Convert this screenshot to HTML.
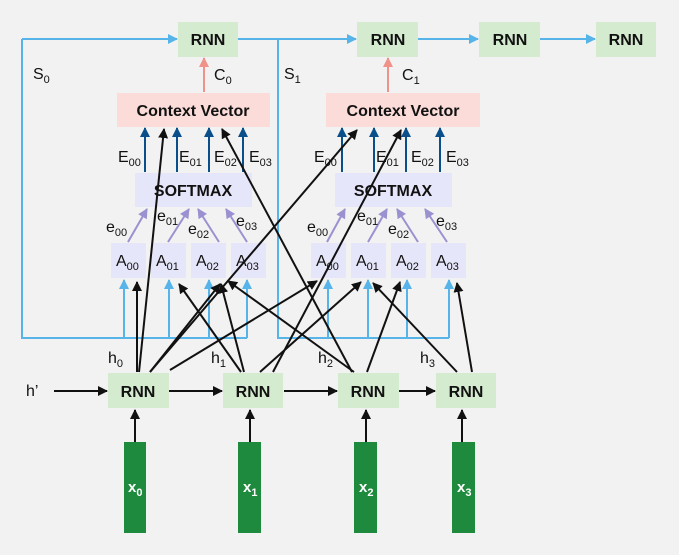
<!DOCTYPE html>
<html><head><meta charset="utf-8"><style>
html,body{margin:0;padding:0;background:#f2f2f2;}
svg{display:block;font-family:"Liberation Sans","DejaVu Sans",sans-serif;}
.t{font-size:16px;font-weight:bold;fill:#111;}
.l{font-size:16px;fill:#111;}
.s{font-size:11px;}
</style></head><body>
<svg width="679" height="555" viewBox="0 0 679 555" xmlns="http://www.w3.org/2000/svg">
<defs>
<marker id="ab" markerWidth="10" markerHeight="10" refX="9" refY="5" orient="auto" markerUnits="userSpaceOnUse"><path d="M0,0 L10,5 L0,10 z" fill="#111"/></marker>
<marker id="abl" markerWidth="10" markerHeight="10" refX="9" refY="5" orient="auto" markerUnits="userSpaceOnUse"><path d="M0,0 L10,5 L0,10 z" fill="#56b4e9"/></marker>
<marker id="adb" markerWidth="10" markerHeight="10" refX="9" refY="5" orient="auto" markerUnits="userSpaceOnUse"><path d="M0,0 L10,5 L0,10 z" fill="#0b4f8a"/></marker>
<marker id="ap" markerWidth="10" markerHeight="10" refX="9" refY="5" orient="auto" markerUnits="userSpaceOnUse"><path d="M0,0 L10,5 L0,10 z" fill="#9a92d0"/></marker>
<marker id="ar" markerWidth="10" markerHeight="10" refX="9" refY="5" orient="auto" markerUnits="userSpaceOnUse"><path d="M0,0 L10,5 L0,10 z" fill="#f0918a"/></marker>
</defs>

<!-- blue loops -->
<g stroke="#56b4e9" stroke-width="2" fill="none">
<polyline points="22,39 22,338 247,338"/>
<line x1="22" y1="39" x2="177" y2="39" marker-end="url(#abl)"/>
<line x1="238" y1="39" x2="356" y2="39" marker-end="url(#abl)"/>
<line x1="418" y1="39" x2="478" y2="39" marker-end="url(#abl)"/>
<line x1="540" y1="39" x2="595" y2="39" marker-end="url(#abl)"/>
<polyline points="278,39 278,338 449,338"/>
<line x1="124" y1="338" x2="124" y2="280" marker-end="url(#abl)"/>
<line x1="169" y1="338" x2="169" y2="280" marker-end="url(#abl)"/>
<line x1="209" y1="338" x2="209" y2="280" marker-end="url(#abl)"/>
<line x1="247" y1="338" x2="247" y2="280" marker-end="url(#abl)"/>
<line x1="328" y1="338" x2="328" y2="280" marker-end="url(#abl)"/>
<line x1="368" y1="338" x2="368" y2="280" marker-end="url(#abl)"/>
<line x1="407" y1="338" x2="407" y2="280" marker-end="url(#abl)"/>
<line x1="449" y1="338" x2="449" y2="280" marker-end="url(#abl)"/>
</g>

<!-- top RNNs -->
<g fill="#d5ebd0">
<rect x="178" y="22" width="60" height="35"/>
<rect x="357" y="22" width="61" height="35"/>
<rect x="479" y="22" width="61" height="35"/>
<rect x="596" y="22" width="60" height="35"/>
</g>
<g class="t" text-anchor="middle">
<text x="208" y="45">RNN</text><text x="388" y="45">RNN</text><text x="510" y="45">RNN</text><text x="626" y="45">RNN</text>
</g>
<text class="l" x="33" y="79">S<tspan class="s" dy="4">0</tspan></text>
<text class="l" x="284" y="79">S<tspan class="s" dy="4">1</tspan></text>

<!-- context vectors -->
<rect x="117" y="93" width="153" height="34" fill="#fbdcd9"/>
<rect x="326" y="93" width="154" height="34" fill="#fbdcd9"/>
<text class="t" x="193" y="116" text-anchor="middle">Context Vector</text>
<text class="t" x="403" y="116" text-anchor="middle">Context Vector</text>
<line x1="204" y1="92" x2="204" y2="58" stroke="#f0918a" stroke-width="2" marker-end="url(#ar)"/>
<line x1="388" y1="92" x2="388" y2="58" stroke="#f0918a" stroke-width="2" marker-end="url(#ar)"/>
<text class="l" x="214" y="80">C<tspan class="s" dy="4">0</tspan></text>
<text class="l" x="402" y="80">C<tspan class="s" dy="4">1</tspan></text>

<!-- softmax -->
<rect x="135" y="173" width="117" height="34" fill="#e6e6fa"/>
<rect x="335" y="173" width="117" height="34" fill="#e6e6fa"/>
<text class="t" x="193" y="196" text-anchor="middle">SOFTMAX</text>
<text class="t" x="393" y="196" text-anchor="middle">SOFTMAX</text>

<g stroke="#0b4f8a" stroke-width="2">
<line x1="145" y1="172" x2="145" y2="128" marker-end="url(#adb)"/>
<line x1="177" y1="172" x2="177" y2="128" marker-end="url(#adb)"/>
<line x1="209" y1="172" x2="209" y2="128" marker-end="url(#adb)"/>
<line x1="243" y1="172" x2="243" y2="128" marker-end="url(#adb)"/>
<line x1="342" y1="172" x2="342" y2="128" marker-end="url(#adb)"/>
<line x1="374" y1="172" x2="374" y2="128" marker-end="url(#adb)"/>
<line x1="406" y1="172" x2="406" y2="128" marker-end="url(#adb)"/>
<line x1="440" y1="172" x2="440" y2="128" marker-end="url(#adb)"/>
</g>
<g class="l">
<text x="118" y="162">E<tspan class="s" dy="4">00</tspan></text>
<text x="179" y="162">E<tspan class="s" dy="4">01</tspan></text>
<text x="214" y="162">E<tspan class="s" dy="4">02</tspan></text>
<text x="249" y="162">E<tspan class="s" dy="4">03</tspan></text>
<text x="314" y="162">E<tspan class="s" dy="4">00</tspan></text>
<text x="376" y="162">E<tspan class="s" dy="4">01</tspan></text>
<text x="411" y="162">E<tspan class="s" dy="4">02</tspan></text>
<text x="446" y="162">E<tspan class="s" dy="4">03</tspan></text>
</g>

<!-- A boxes -->
<g fill="#e6e6fa">
<rect x="111" y="243" width="35" height="35"/><rect x="151" y="243" width="35" height="35"/><rect x="191" y="243" width="35" height="35"/><rect x="231" y="243" width="35" height="35"/>
<rect x="311" y="243" width="35" height="35"/><rect x="351" y="243" width="35" height="35"/><rect x="391" y="243" width="35" height="35"/><rect x="431" y="243" width="35" height="35"/>
</g>
<g class="l">
<text x="116" y="266">A<tspan class="s" dy="4">00</tspan></text>
<text x="156" y="266">A<tspan class="s" dy="4">01</tspan></text>
<text x="196" y="266">A<tspan class="s" dy="4">02</tspan></text>
<text x="236" y="266">A<tspan class="s" dy="4">03</tspan></text>
<text x="316" y="266">A<tspan class="s" dy="4">00</tspan></text>
<text x="356" y="266">A<tspan class="s" dy="4">01</tspan></text>
<text x="396" y="266">A<tspan class="s" dy="4">02</tspan></text>
<text x="436" y="266">A<tspan class="s" dy="4">03</tspan></text>
</g>
<g stroke="#9a92d0" stroke-width="2">
<line x1="128" y1="242" x2="147" y2="209" marker-end="url(#ap)"/>
<line x1="168" y1="242" x2="189" y2="209" marker-end="url(#ap)"/>
<line x1="219" y1="242" x2="198" y2="209" marker-end="url(#ap)"/>
<line x1="247" y1="242" x2="226" y2="209" marker-end="url(#ap)"/>
<line x1="327" y1="242" x2="345" y2="209" marker-end="url(#ap)"/>
<line x1="368" y1="242" x2="387" y2="209" marker-end="url(#ap)"/>
<line x1="418" y1="242" x2="397" y2="209" marker-end="url(#ap)"/>
<line x1="447" y1="242" x2="425" y2="209" marker-end="url(#ap)"/>
</g>
<g class="l">
<text x="106" y="232">e<tspan class="s" dy="4">00</tspan></text>
<text x="157" y="221">e<tspan class="s" dy="4">01</tspan></text>
<text x="188" y="234">e<tspan class="s" dy="4">02</tspan></text>
<text x="236" y="226">e<tspan class="s" dy="4">03</tspan></text>
<text x="307" y="232">e<tspan class="s" dy="4">00</tspan></text>
<text x="357" y="221">e<tspan class="s" dy="4">01</tspan></text>
<text x="388" y="234">e<tspan class="s" dy="4">02</tspan></text>
<text x="436" y="226">e<tspan class="s" dy="4">03</tspan></text>
</g>

<!-- black connectors -->
<g stroke="#111" stroke-width="2">
<line x1="137" y1="372" x2="137" y2="282" marker-end="url(#ab)"/>
<line x1="139" y1="372" x2="164" y2="129" marker-end="url(#ab)"/>
<line x1="150" y1="372" x2="220" y2="284" marker-end="url(#ab)"/>
<line x1="150" y1="372" x2="357" y2="130" marker-end="url(#ab)"/>
<line x1="170" y1="370" x2="317" y2="281" marker-end="url(#ab)"/>
<line x1="241" y1="372" x2="179" y2="284" marker-end="url(#ab)"/>
<line x1="244" y1="372" x2="221" y2="284" marker-end="url(#ab)"/>
<line x1="260" y1="372" x2="361" y2="282" marker-end="url(#ab)"/>
<line x1="273" y1="372" x2="401" y2="130" marker-end="url(#ab)"/>
<line x1="354" y1="372" x2="228" y2="281" marker-end="url(#ab)"/>
<line x1="352" y1="372" x2="222" y2="129" marker-end="url(#ab)"/>
<line x1="367" y1="372" x2="400" y2="282" marker-end="url(#ab)"/>
<line x1="457" y1="372" x2="373" y2="283" marker-end="url(#ab)"/>
<line x1="472" y1="372" x2="457" y2="283" marker-end="url(#ab)"/>
<line x1="54" y1="391" x2="107" y2="391" marker-end="url(#ab)"/>
<line x1="169" y1="391" x2="222" y2="391" marker-end="url(#ab)"/>
<line x1="284" y1="391" x2="337" y2="391" marker-end="url(#ab)"/>
<line x1="399" y1="391" x2="435" y2="391" marker-end="url(#ab)"/>
<line x1="135" y1="442" x2="135" y2="410" marker-end="url(#ab)"/>
<line x1="250" y1="442" x2="250" y2="410" marker-end="url(#ab)"/>
<line x1="366" y1="442" x2="366" y2="410" marker-end="url(#ab)"/>
<line x1="462" y1="442" x2="462" y2="410" marker-end="url(#ab)"/>
</g>

<!-- bottom RNNs -->
<g fill="#d5ebd0">
<rect x="108" y="373" width="61" height="35"/>
<rect x="223" y="373" width="60" height="35"/>
<rect x="338" y="373" width="61" height="35"/>
<rect x="436" y="373" width="60" height="35"/>
</g>
<g class="t" text-anchor="middle">
<text x="138" y="397">RNN</text><text x="253" y="397">RNN</text><text x="368" y="397">RNN</text><text x="466" y="397">RNN</text>
</g>
<text class="l" x="26" y="396">h’</text>
<g class="l">
<text x="108" y="363">h<tspan class="s" dy="4">0</tspan></text>
<text x="211" y="363">h<tspan class="s" dy="4">1</tspan></text>
<text x="318" y="363">h<tspan class="s" dy="4">2</tspan></text>
<text x="420" y="363">h<tspan class="s" dy="4">3</tspan></text>
</g>

<!-- x inputs -->
<g fill="#1e8a3e">
<rect x="124" y="442" width="22" height="91"/>
<rect x="238" y="442" width="23" height="91"/>
<rect x="354" y="442" width="23" height="91"/>
<rect x="452" y="442" width="23" height="91"/>
</g>
<g font-size="15" fill="#fff" font-weight="bold">
<text x="128" y="492">x<tspan class="s" dy="4">0</tspan></text>
<text x="243" y="492">x<tspan class="s" dy="4">1</tspan></text>
<text x="359" y="492">x<tspan class="s" dy="4">2</tspan></text>
<text x="457" y="492">x<tspan class="s" dy="4">3</tspan></text>
</g>
</svg>
</body></html>
